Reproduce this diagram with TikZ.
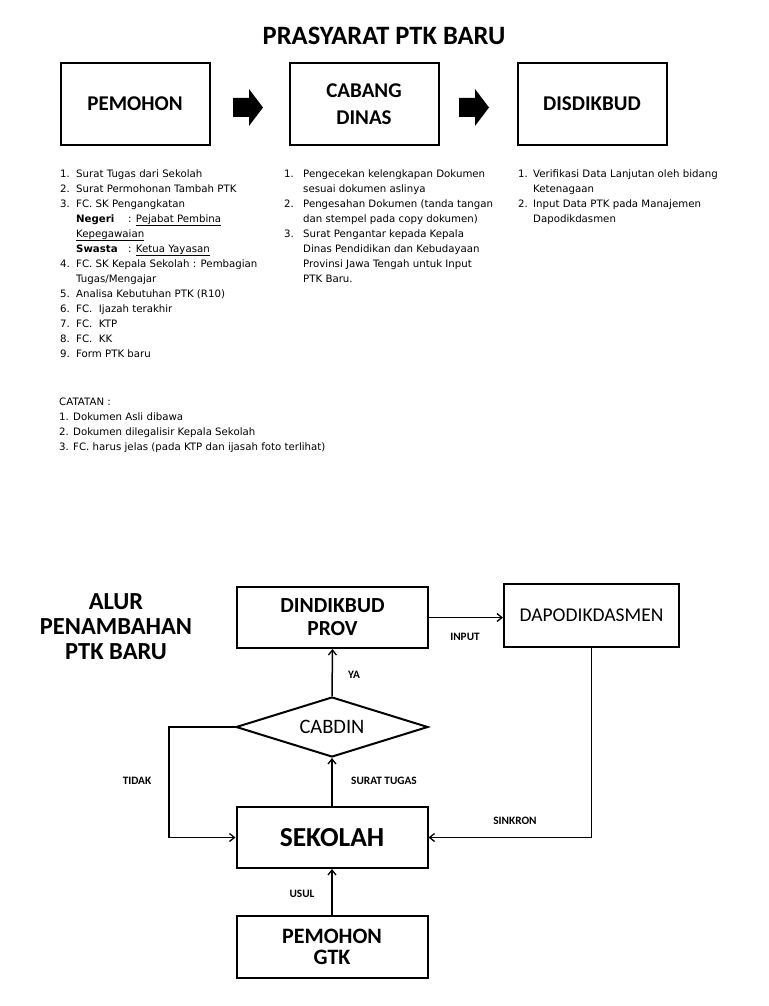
\documentclass[tikz,border=0pt]{standalone}
\usepackage{fontspec}
\setmainfont{DejaVu Sans}
\newfontfamily\calib{Carlito}
\usetikzlibrary{arrows.meta,shapes.geometric}
\newcommand{\lst}{\fontsize{10.2}{15}\selectfont}
\begin{document}
\begin{tikzpicture}[x=1pt,y=-1pt,
  topbox/.style={draw,line width=2pt,minimum width=149pt,minimum height=81pt,inner sep=0pt,font=\calib\bfseries\fontsize{21}{27}\selectfont,align=center},
  flowbox/.style={draw,line width=2pt,inner sep=0pt,align=center},
  blockarrow/.style={fill=black},
  conn/.style={line width=1.5pt,-{Straight Barb[length=5pt,width=8pt,line width=1.3pt]}},
  lab/.style={font=\calib\bfseries\fontsize{11.3}{12}\selectfont,inner sep=0pt},
  listnode/.style={anchor=base west,inner sep=0pt,font=\lst}
]
\useasboundingbox (0,0) rectangle (768,1006);

% ---------- top part ----------
\node[font=\calib\bfseries\fontsize{26.5}{30}\selectfont,inner sep=0pt] (title) at (384,36) {PRASYARAT PTK BARU};

\node[topbox] (pem) at (135,104) {PEMOHON};
\node[topbox] (cab) at (364,104) {CABANG\\DINAS};
\node[topbox] (dis) at (592,104) {DISDIKBUD};

\fill[blockarrow] (233,98) -- (249,98) -- (249,89) -- (263,107.5) -- (249,126) -- (249,117) -- (233,117) -- cycle;
\fill[blockarrow] (459,98) -- (475,98) -- (475,89) -- (489,107.5) -- (475,126) -- (475,117) -- (459,117) -- cycle;

\node[listnode] (list1) at (60,177) {\begin{tabular}[t]{@{}p{16pt}@{}l@{}}
1. & Surat Tugas dari Sekolah\\
2. & Surat Permohonan Tambah PTK\\
3. & FC. SK Pengangkatan\\
   & \makebox[52pt][l]{\textbf{Negeri}}: \underline{Pejabat Pembina}\\
   & \underline{Kepegawaian}\\
   & \makebox[52pt][l]{\textbf{Swasta}}: \underline{Ketua Yayasan}\\
4. & FC. SK Kepala Sekolah : Pembagian\\
   & Tugas/Mengajar\\
5. & Analisa Kebutuhan PTK (R10)\\
6. & FC.\ \ Ijazah terakhir\\
7. & FC.\ \ KTP\\
8. & FC.\ \ KK\\
9. & Form PTK baru
\end{tabular}};

\node[listnode] (list2) at (284,177) {\begin{tabular}[t]{@{}p{19pt}@{}l@{}}
1. & Pengecekan kelengkapan Dokumen\\
   & sesuai dokumen aslinya\\
2. & Pengesahan Dokumen (tanda tangan\\
   & dan stempel pada copy dokumen)\\
3. & Surat Pengantar kepada Kepala\\
   & Dinas Pendidikan dan Kebudayaan\\
   & Provinsi Jawa Tengah untuk Input\\
   & PTK Baru.
\end{tabular}};

\node[listnode] (list3) at (518,177) {\begin{tabular}[t]{@{}p{15pt}@{}l@{}}
1. & Verifikasi Data Lanjutan oleh bidang\\
   & Ketenagaan\\
2. & Input Data PTK pada Manajemen\\
   & Dapodikdasmen
\end{tabular}};

\node[listnode] (notes) at (59,405) {\begin{tabular}[t]{@{}l@{}}
CATATAN :\\
1. Dokumen Asli dibawa\\
2. Dokumen dilegalisir Kepala Sekolah\\
3. FC. harus jelas (pada KTP dan ijasah foto terlihat)
\end{tabular}};

% ---------- bottom part ----------
\node[font=\calib\bfseries\fontsize{24.5}{25}\selectfont,align=center,inner sep=0pt] (alur) at (116,627) {ALUR\\PENAMBAHAN\\PTK BARU};

\node[flowbox,minimum width=191pt,minimum height=61pt,font=\calib\bfseries\fontsize{21.5}{23}\selectfont] (dprov) at (332.5,617.5) {DINDIKBUD\\PROV};
\node[flowbox,minimum width=175pt,minimum height=63pt,font=\calib\fontsize{19.5}{20}\selectfont] (dapo) at (591.5,615.5) {DAPODIKDASMEN};
\node[draw,line width=2pt,diamond,minimum width=192pt,minimum height=60pt,aspect=3.2,inner sep=0pt,font=\calib\fontsize{20.5}{20}\selectfont] (cabdin) at (332,727) {CABDIN};
\node[flowbox,minimum width=191pt,minimum height=61pt,font=\calib\bfseries\fontsize{27.5}{30}\selectfont] (sek) at (332,837.5) {SEKOLAH};
\node[flowbox,minimum width=191pt,minimum height=62pt,font=\calib\bfseries\fontsize{22}{21}\selectfont] (pgtk) at (332,947) {PEMOHON\\GTK};

\draw[conn] (dprov.east) -- (dapo.west |- dprov.east);
\draw[conn] (cabdin.north) -- (dprov.south);
\draw[conn] (sek.north) -- (cabdin.south);
\draw[conn] (cabdin.west) -- ++(-66,0) |- (sek.west);
\draw[conn] (dapo.south) |- (sek.east);
\draw[conn] (pgtk.north) -- (sek.south);

\node[lab] (linput) at (465,637) {INPUT};
\node[lab] (lya) at (354,675) {YA};
\node[lab] (ltidak) at (137,781) {TIDAK};
\node[lab] (lsurat) at (384,781) {SURAT TUGAS};
\node[lab] (lsink) at (515,821) {SINKRON};
\node[lab] (lusul) at (302,894) {USUL};
\end{tikzpicture}
\end{document}
